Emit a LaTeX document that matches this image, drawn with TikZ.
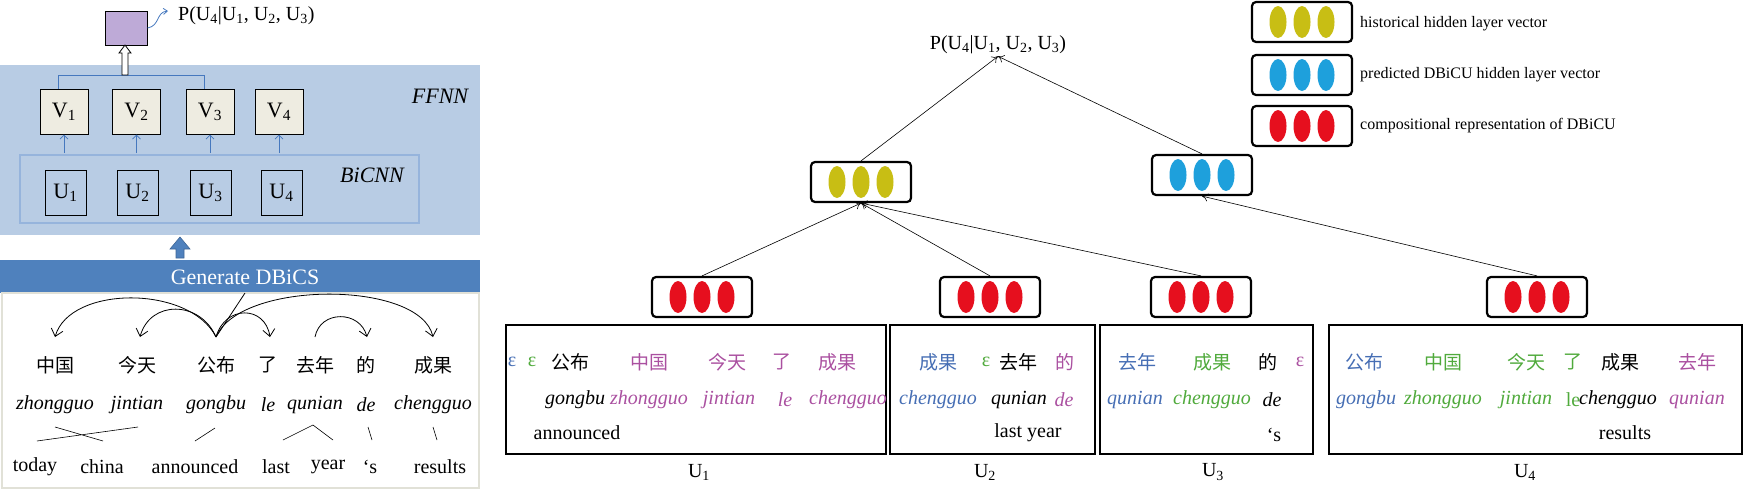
\documentclass[tikz,border=0pt]{standalone}
\usepackage{fontspec}
\setmainfont{Liberation Serif}
\newfontfamily\cjk{Noto Sans CJK SC}
\usetikzlibrary{arrows.meta,shapes.geometric}
\definecolor{panel}{RGB}{184,204,228}
\definecolor{barblue}{RGB}{79,129,189}
\definecolor{beige}{RGB}{238,236,225}
\definecolor{lilac}{RGB}{190,170,215}
\definecolor{cy}{RGB}{200,190,20}
\definecolor{cb}{RGB}{30,160,220}
\definecolor{cr}{RGB}{230,15,30}
\definecolor{tb}{RGB}{70,110,180}
\definecolor{tg}{RGB}{80,170,60}
\definecolor{tp}{RGB}{170,80,160}
\definecolor{lineblue}{RGB}{70,120,190}
\tikzset{
  sq/.style={draw,line width=1pt,minimum width=#1,minimum height=45,inner sep=0},
  vbox/.style={draw,line width=2.2pt,rounded corners=4,minimum width=100,minimum height=40,inner sep=0},
  dot/.style={ellipse,fill=#1,minimum width=17,minimum height=32,inner sep=0},
  ubox/.style={draw,line width=2pt,inner sep=0},
  txt/.style={font=\fontsize{20}{22}\selectfont,inner sep=0},
  ch/.style={font=\cjk\fontsize{19}{21}\selectfont,inner sep=0},
  py/.style={font=\itshape\fontsize{20}{22}\selectfont,inner sep=0},
  lab/.style={font=\fontsize{16}{18}\selectfont,inner sep=0,anchor=west},
  tree/.style={-{To[length=6pt,width=8pt]},line width=0.6pt},
  arc/.style={-{Straight Barb[length=7pt,width=12pt]},line width=0.8pt},
}
\newcommand{\vecbox}[4]{%
  \node[vbox] (#1) at (#2,#3) {};
  \node[dot=#4] (#1a) at ([xshift=-24]#1.center) {};
  \node[dot=#4] (#1b) at (#1.center) {};
  \node[dot=#4] (#1c) at ([xshift=24]#1.center) {};}
\begin{document}
\begin{tikzpicture}[x=1pt,y=-1pt]
\useasboundingbox (0,0) rectangle (1745,493);
% ---------------- left panel
\fill[panel] (0,65) rectangle (480,235);
\draw[color={rgb,255:red,150;green,180;blue,220},line width=2pt] (20,155) rectangle (419,223);
\node[draw,line width=1pt,fill=lilac,minimum width=42,minimum height=34,inner sep=0] (pbox) at (126,28) {};
\node[txt,anchor=west] (plab) at (178,16) {P(U\textsubscript{4}|U\textsubscript{1}, U\textsubscript{2}, U\textsubscript{3})};
\draw[lineblue,-{Straight Barb[length=4pt,width=6pt]},line width=0.8pt] (pbox.east) ++(0,0) .. controls (160,26) and (156,12) .. (168,11);
\foreach \i/\x in {1/64,2/136.5,3/210,4/279}{
  \node[sq=48,fill=beige] (v\i) at (\x,111.5) {\fontsize{22}{24}\selectfont V\textsubscript{\i}};}
\foreach \i/\x in {1/65.5,2/137.5,3/210.5,4/281.5}{
  \node[sq=41] (u\i) at (\x,192.5) {\fontsize{22}{24}\selectfont U\textsubscript{\i}};}
\foreach \i in {1,...,4}{
  \draw[lineblue,-{Straight Barb[length=4pt,width=8pt]},line width=0.8pt] (v\i.south |- 0,153) -- (v\i.south);}
\draw[lineblue,line width=0.8pt] (v1.north -| 58,0) -- (58,75) -- (204,75) -- (v3.north -| 204,0);
\draw[line width=0.8pt,fill=white] (122,75) -- (122,53) -- (119,53) -- (125,45) -- (131,53) -- (128,53) -- (128,75) -- cycle;
\node[font=\itshape\fontsize{22}{24}\selectfont,inner sep=0] (ffnn) at (440,96) {FFNN};
\node[font=\itshape\fontsize{22}{24}\selectfont,inner sep=0] (bicnn) at (372,175) {BiCNN};
\draw[barblue!80!black,fill=barblue,line width=0.6pt] (176,258) -- (176,249) -- (170,249) -- (180,237) -- (190,249) -- (184,249) -- (184,258) -- cycle;
\fill[barblue] (0,260) rectangle (480,293);
\node[txt,text=white,font=\fontsize{22}{24}\selectfont] (gen) at (245,277) {Generate DBiCS};
\draw[color={rgb,255:red,225;green,225;blue,215},line width=2pt] (2,293) rectangle (479,488);
% words
\foreach \n/\x/\c/\p/\e in {a/55/中国/zhongguo/today,b/137/今天/jintian/china,c/216/公布/gongbu/announced,d/268/了/le/last,e/315/去年/qunian/year,f/366/的/de/`s,g/433/成果/chengguo/results}{
  \node[ch] (c\n) at (\x,365) {\c};
  \node[py] (p\n) at (\x,405) {\p};}
\node[txt] (ea) at (35,467) {today};
\node[txt] (eb) at (102,467) {china};
\node[txt] (ec) at (195,467) {announced};
\node[txt] (ed) at (276,467) {last};
\node[txt] (ee) at (328,467) {year};
\node[txt] (ef) at (370,467) {`s};
\node[txt] (eg) at (440,467) {results};
\coordinate (root) at (216,337);
\draw[line width=0.8pt] (gen.south |- 0,293) -- (root);
\draw[arc] (root) .. controls (190,285) and (70,285) .. (55,337);
\draw[arc] (root) .. controls (200,300) and (150,300) .. (140,337);
\draw[arc] (root) .. controls (225,305) and (265,305) .. (270,337);
\draw[arc] (root) .. controls (240,280) and (420,280) .. (433,337);
\draw[arc] (315,337) .. controls (320,310) and (360,310) .. (367,337);
\draw[line width=0.6pt] (37,441) -- (138,427) (55,427) -- (103,441)
  (195,441) -- (215,428) (283,440) -- (313,425) -- (333,440)
  (368,427) -- (372,440) (433,427) -- (437,440);
% ---------------- right part
\node[txt] (P) at (998,45) {P(U\textsubscript{4}|U\textsubscript{1}, U\textsubscript{2}, U\textsubscript{3})};
\vecbox{hy}{861}{182}{cy}
\vecbox{hb}{1202}{175}{cb}
\vecbox{r1}{702}{297}{cr}
\vecbox{r2}{990}{297}{cr}
\vecbox{r3}{1201}{297}{cr}
\vecbox{r4}{1537}{297}{cr}
\vecbox{l1}{1302}{22}{cy}
\vecbox{l2}{1302}{75}{cb}
\vecbox{l3}{1302}{126}{cr}
\node[lab] (t1) at (1360,24) {historical hidden layer vector};
\node[lab] (t2) at (1360,75) {predicted DBiCU hidden layer vector};
\node[lab] (t3) at (1360,126) {compositional representation of DBiCU};
\draw[tree] (hy.north) -- ([yshift=-2]P.south);
\draw[tree] (hb.north) -- ([yshift=-2]P.south);
\draw[tree] (r1.north) -- (hy.south);
\draw[tree] (r2.north) -- (hy.south);
\draw[tree] (r3.north) -- (hy.south);
\draw[tree] (r4.north) -- (hb.south);
\node[ubox,minimum width=380,minimum height=129] (U1) at (696,389.5) {};
\node[ubox,minimum width=205,minimum height=129] (U2) at (992.5,389.5) {};
\node[ubox,minimum width=213,minimum height=129] (U3) at (1206.5,389.5) {};
\node[ubox,minimum width=413,minimum height=129] (U4) at (1535.5,389.5) {};
\node[txt] (lu1) at (699,472) {U\textsubscript{1}};
\node[txt] (lu2) at (985,472) {U\textsubscript{2}};
\node[txt] (lu3) at (1213,472) {U\textsubscript{3}};
\node[txt] (lu4) at (1525,472) {U\textsubscript{4}};
% U1
\node[txt,text=tb] (x1) at (512,362) {ε};
\node[txt,text=tg] (x2) at (532,362) {ε};
\node[ch] (x3) at (570,362) {公布};
\node[ch,text=tp] (x4) at (649,362) {中国};
\node[ch,text=tp] (x5) at (727,362) {今天};
\node[ch,text=tp] (x6) at (782,362) {了};
\node[ch,text=tp] (x7) at (837,362) {成果};
\node[py] (y3) at (575,400) {gongbu};
\node[py,text=tp] (y4) at (649,400) {zhongguo};
\node[py,text=tp] (y5) at (729,400) {jintian};
\node[py,text=tp] (y6) at (785,400) {le};
\node[py,text=tp] (y7) at (848,400) {chengguo};
\node[txt] (z3) at (577,433) {announced};
% U2
\node[ch,text=tb] (x8) at (938,362) {成果};
\node[txt,text=tg] (x9) at (986,362) {ε};
\node[ch] (x10) at (1018,362) {去年};
\node[ch,text=tp] (x11) at (1065,362) {的};
\node[py,text=tb] (y8) at (938,400) {chengguo};
\node[py] (y10) at (1019,400) {qunian};
\node[py,text=tp] (y11) at (1064,400) {de};
\node[txt] (z10) at (1028,433) {last year};
% U3
\node[ch,text=tb] (x12) at (1137,362) {去年};
\node[ch,text=tg] (x13) at (1212,362) {成果};
\node[ch] (x14) at (1268,362) {的};
\node[txt,text=tp] (x15) at (1300,362) {ε};
\node[py,text=tb] (y12) at (1135,400) {qunian};
\node[py,text=tg] (y13) at (1212,400) {chengguo};
\node[py] (y14) at (1272,400) {de};
\node[txt] (z14) at (1274,435) {`s};
% U4
\node[ch,text=tb] (x16) at (1364,362) {公布};
\node[ch,text=tg] (x17) at (1443,362) {中国};
\node[ch,text=tg] (x18) at (1526,362) {今天};
\node[ch,text=tg] (x19) at (1573,362) {了};
\node[ch] (x20) at (1620,362) {成果};
\node[ch,text=tp] (x21) at (1697,362) {去年};
\node[py,text=tb] (y16) at (1366,400) {gongbu};
\node[py,text=tg] (y17) at (1443,400) {zhongguo};
\node[py,text=tg] (y18) at (1526,400) {jintian};
\node[txt,text=tg] (y19) at (1573,400) {le};
\node[py] (y20) at (1618,400) {chengguo};
\node[py,text=tp] (y21) at (1697,400) {qunian};
\node[txt] (z20) at (1625,433) {results};
\end{tikzpicture}
\end{document}
